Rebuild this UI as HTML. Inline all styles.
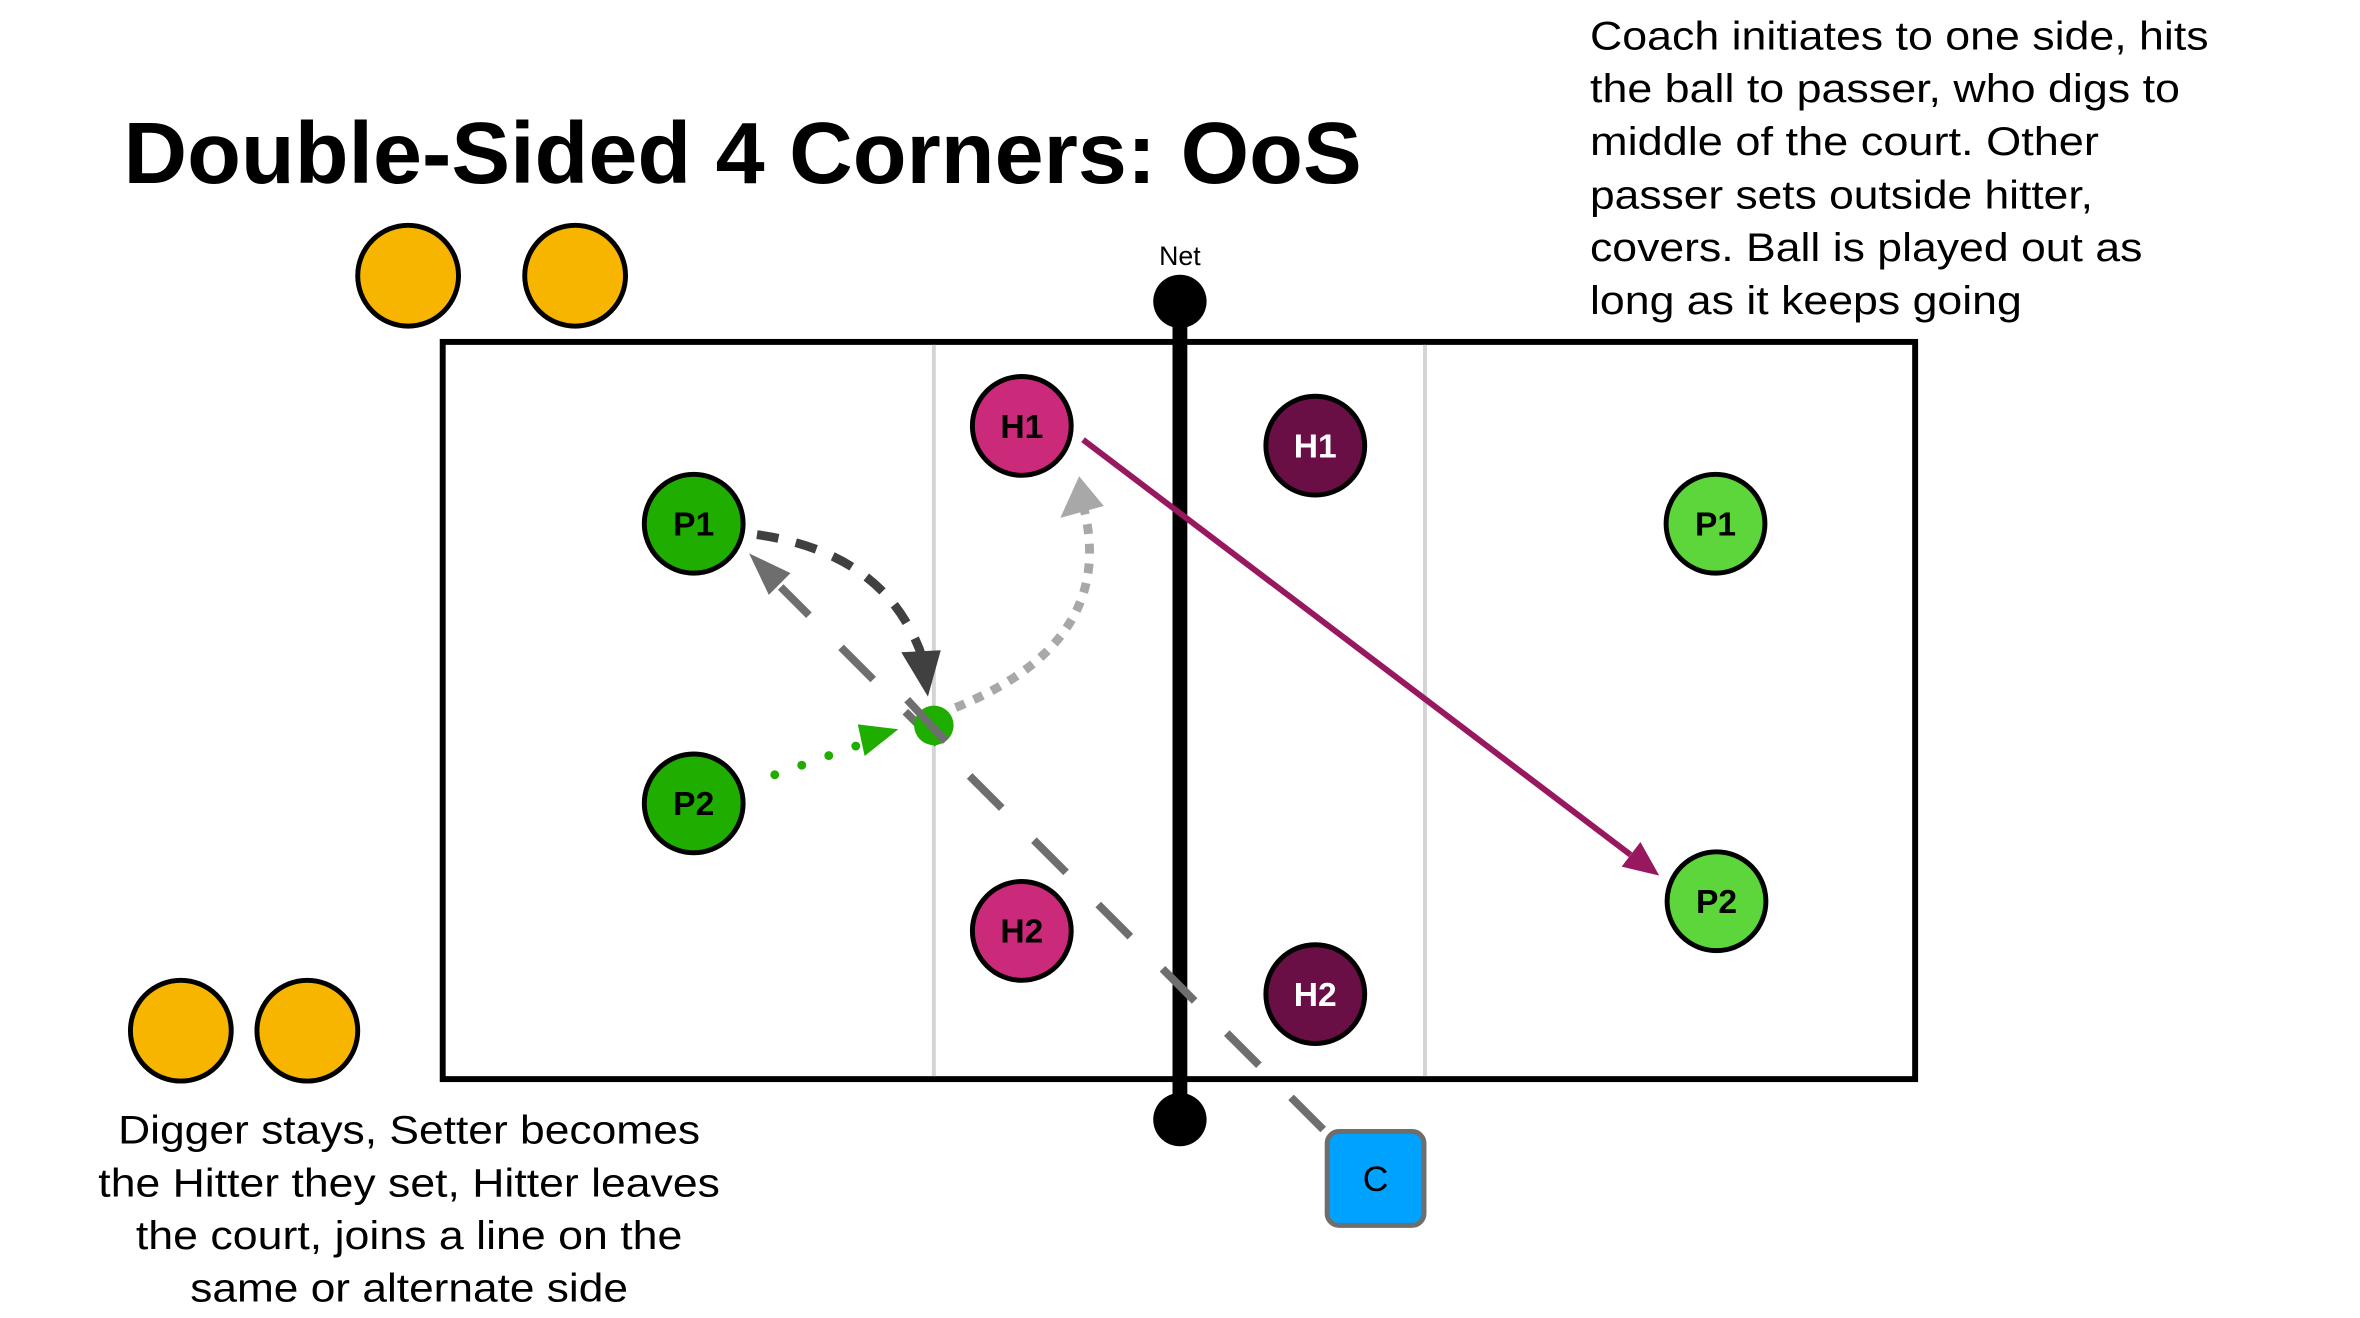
<!DOCTYPE html>
<html><head><meta charset="utf-8"><style>html,body{margin:0;padding:0;background:#fff}svg{display:block}</style></head>
<body>
<svg width="2360" height="1318" viewBox="0 0 2360 1318" xmlns="http://www.w3.org/2000/svg" font-family="Liberation Sans, sans-serif">
<rect width="2360" height="1318" fill="#fff"/>
<g transform="scale(0.9882)">
<text x="125" y="185" font-size="88" font-weight="bold" textLength="1253" lengthAdjust="spacingAndGlyphs" fill="#000">Double-Sided 4 Corners: OoS</text>
<g font-size="40" fill="#000">
<text x="1609" y="50" textLength="626" lengthAdjust="spacingAndGlyphs">Coach initiates to one side, hits</text>
<text x="1609" y="103" textLength="597" lengthAdjust="spacingAndGlyphs">the ball to passer, who digs to</text>
<text x="1609" y="157" textLength="515" lengthAdjust="spacingAndGlyphs">middle of the court. Other</text>
<text x="1609" y="211" textLength="509" lengthAdjust="spacingAndGlyphs">passer sets outside hitter,</text>
<text x="1609" y="264" textLength="559" lengthAdjust="spacingAndGlyphs">covers. Ball is played out as</text>
<text x="1609" y="318" textLength="437" lengthAdjust="spacingAndGlyphs">long as it keeps going</text>
</g>
<g font-size="40" fill="#000" text-anchor="middle">
<text x="414" y="1157" textLength="589" lengthAdjust="spacingAndGlyphs">Digger stays, Setter becomes</text>
<text x="414" y="1211" textLength="629" lengthAdjust="spacingAndGlyphs">the Hitter they set, Hitter leaves</text>
<text x="414" y="1264" textLength="553" lengthAdjust="spacingAndGlyphs">the court, joins a line on the</text>
<text x="414" y="1317" textLength="443" lengthAdjust="spacingAndGlyphs">same or alternate side</text>
</g>
<rect x="448" y="346" width="1490" height="746" fill="none" stroke="#000" stroke-width="6"/>
<line x1="945" y1="349" x2="945" y2="1089" stroke="#d4d4d4" stroke-width="4"/>
<line x1="1442" y1="349" x2="1442" y2="1089" stroke="#d4d4d4" stroke-width="4"/>
<line x1="1194" y1="305" x2="1194" y2="1133" stroke="#000" stroke-width="15"/>
<circle cx="1194" cy="305" r="27" fill="#000"/>
<circle cx="1194" cy="1133" r="27" fill="#000"/>
<text x="1194" y="268" font-size="27" text-anchor="middle">Net</text>
<g fill="#f7b500" stroke="#000" stroke-width="5">
<circle cx="413" cy="279" r="51"/><circle cx="582" cy="279" r="51"/>
<circle cx="183" cy="1043" r="51"/><circle cx="311" cy="1043" r="51"/>
</g>
<line x1="1339" y1="1143" x2="790" y2="594" stroke="#6e6e6e" stroke-width="8" stroke-dasharray="46 46"/>
<path d="M758,560 L800,580 L778,602z" fill="#6e6e6e"/>
<path d="M766,541 Q900,560 935,670" fill="none" stroke="#404040" stroke-width="9" stroke-dasharray="22 18"/>
<path d="M939,705 L912,660 L952,658z" fill="#404040"/>
<path d="M967,716 Q1130,650 1097,515" fill="none" stroke="#a8a8a8" stroke-width="9" stroke-dasharray="10 10"/>
<path d="M1092,482 L1073,524 L1117,512z" fill="#a8a8a8"/>
<path d="M784,784 L880,750" fill="none" stroke="#1fae00" stroke-width="9" stroke-linecap="round" stroke-dasharray="0 29"/>
<path d="M909,738 L868,733 L875,765z" fill="#1fae00"/>
<circle cx="945" cy="734" r="20" fill="#1fae00"/>
<line x1="918" y1="708" x2="957" y2="750" stroke="#6e6e6e" stroke-width="8"/>
<line x1="1096" y1="445" x2="1650" y2="865" stroke="#98185f" stroke-width="6"/>
<path d="M1679,886 L1641,877 L1660,852z" fill="#98185f"/>
<g stroke="#000" stroke-width="5">
<circle cx="702" cy="530" r="50" fill="#1fae00"/>
<circle cx="702" cy="813" r="50" fill="#1fae00"/>
<circle cx="1034" cy="431" r="50" fill="#cb2a7a"/>
<circle cx="1034" cy="942" r="50" fill="#cb2a7a"/>
<circle cx="1331" cy="451" r="50" fill="#6a0f46"/>
<circle cx="1331" cy="1006" r="50" fill="#6a0f46"/>
<circle cx="1736" cy="530" r="50" fill="#5cd63a"/>
<circle cx="1737" cy="912" r="50" fill="#5cd63a"/>
</g>
<rect x="1343" y="1145" width="98" height="95" rx="12" fill="#00a2ff" stroke="#6e6e6e" stroke-width="5"/>
<g font-size="34" font-weight="bold" text-anchor="middle">
<text x="702" y="542">P1</text>
<text x="702" y="825">P2</text>
<text x="1034" y="443">H1</text>
<text x="1034" y="954">H2</text>
<text x="1331" y="463" fill="#fff">H1</text>
<text x="1331" y="1018" fill="#fff">H2</text>
<text x="1736" y="542">P1</text>
<text x="1737" y="924">P2</text>
</g>
<text x="1392" y="1205" font-size="36" text-anchor="middle">C</text>
</g>
</svg>
</body></html>
